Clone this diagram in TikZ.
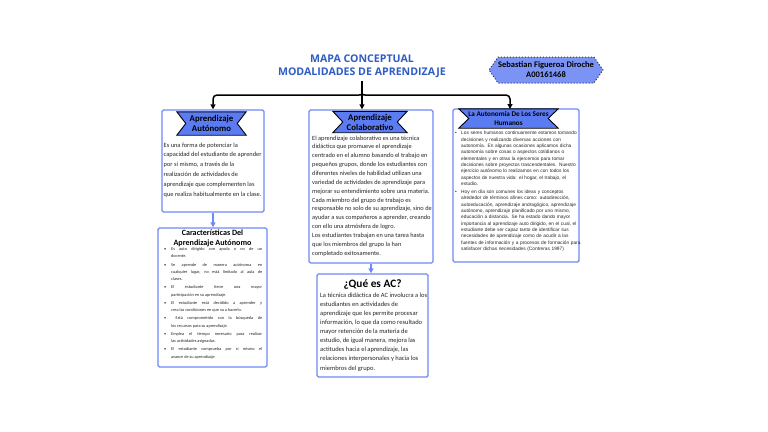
\documentclass[tikz,border=0pt]{standalone}
\usepackage{fontspec}
\setmainfont{Carlito}
\newfontfamily\titlefont{Open Sans}
\newfontfamily\smallfont{Liberation Sans}
\usetikzlibrary{arrows.meta,positioning,shapes.symbols,backgrounds}
\definecolor{ink}{HTML}{262626}
\definecolor{titleblue}{HTML}{2F5DC4}
\definecolor{frame}{HTML}{6F8AF7}
\definecolor{ribbon}{HTML}{5B7BF2}
\definecolor{tagfill}{HTML}{7B93F4}

\newcommand{\itm}[2][7pt]{\hangindent=#1\hangafter=1\noindent\makebox[#1][l]{\textbullet}#2\par}
\newcommand{\ribbonback}[2]{%
  \begin{pgfonlayer}{background}
    \path[ribbonline] (#1.north west) -- (#1.north east) -- ([xshift=-#2]#1.east)
      -- (#1.south east) -- (#1.south west) -- ([xshift=#2]#1.west) -- cycle;
  \end{pgfonlayer}}

\begin{document}
\begin{tikzpicture}[
  x=1pt, y=-1pt,
  font=\fontsize{6.4}{9.8}\selectfont,
  text=ink,
  frame/.style={draw=frame, line width=1.4pt, rounded corners=1.5pt, inner sep=0pt},
  ribbonbox/.style={inner sep=0pt, font=\bfseries\fontsize{8.8}{10}\selectfont, align=center, text=black},
  ribbonline/.style={draw=black, line width=0.9pt, fill=ribbon, line join=miter},
  body/.style={anchor=north west, inner sep=0pt, align=left},
  heading/.style={font=\bfseries\fontsize{8.1}{9.8}\selectfont, align=center, text=black, inner sep=0pt},
  tag/.style={signal, signal to=west and east, signal pointer angle=110, draw=black!80, dotted,
    line width=1pt, fill=tagfill, inner sep=0pt, align=center,
    font=\bfseries\fontsize{8.5}{10}\selectfont, text=black},
  link/.style={-{Triangle[length=5pt,width=5pt]}, line width=1.5pt, draw=black, rounded corners=4pt},
  blink/.style={-{Triangle[length=5pt,width=5pt]}, line width=1.5pt, draw=frame}
]

\begin{pgfonlayer}{background}
  \path[fill=white] (0,0) rectangle (768,431);
  \node[frame, minimum width=102pt, minimum height=102pt] (autobox) at (213,161) {};
  \node[frame, minimum width=109pt, minimum height=139pt] (traitbox) at (212.5,297.5) {};
  \node[frame, minimum width=124pt, minimum height=153pt] (colabbox) at (371,186.5) {};
  \node[frame, minimum width=111pt, minimum height=103pt] (acbox) at (372.5,325.5) {};
  \node[frame, minimum width=126pt, minimum height=153pt] (humanbox) at (516,185.5) {};
\end{pgfonlayer}
\useasboundingbox (0,0) rectangle (768,431);

% title and author
\node[font=\titlefont\bfseries\fontsize{10.6}{13}\selectfont, text=titleblue, align=center, inner sep=0pt]
  (title) at (362,66.5) {MAPA CONCEPTUAL\\MODALIDADES DE APRENDIZAJE};
\node[tag, minimum width=114pt, minimum height=26pt] (author) at (546,70)
  {Sebastian Figueroa Diroche\\A00161468};

% ribbons
\node[ribbonbox, minimum width=69pt, minimum height=23pt] (autotag) at (211.5,123.5) {Aprendizaje\\Autónomo};
\ribbonback{autotag}{9pt}
\node[ribbonbox, minimum width=74pt, minimum height=21pt] (colabtag) at (370,122) {Aprendizaje\\Colaborativo};
\ribbonback{colabtag}{10pt}
\node[ribbonbox, minimum width=99pt, minimum height=19pt, font=\bfseries\fontsize{7.2}{9}\selectfont]
  (humantag) at (508.5,118.5) {La Autonomía De Los Seres\\Humanos};
\ribbonback{humantag}{10pt}

% texts
\node[body] (autotext) at (163.5,142.5) {Es una forma de potenciar la\\capacidad del estudiante de aprender\\por sí mismo, a través de la\\realización de actividades de\\aprendizaje que complementen las\\que realiza habitualmente en la clase.};

\node[heading] (traithead) at (212.5,238) {Características Del\\Aprendizaje Autónomo};
\node[body, text width=98pt, align=justify, font=\fontsize{4.3}{7.3}\selectfont] (traittext) at (164,247.5) {%
  \setlength{\parskip}{0.9pt}%
  \itm{Es auto dirigido con ayuda o no de un\linebreak docente.}
  \itm{Se aprende de manera autónoma en\linebreak cualquier lugar, no está limitado al aula de\linebreak clases.}
  \itm{El estudiante tiene una mayor\linebreak participación en su aprendizaje.}
  \itm{El estudiante está decidido a aprender y\linebreak crea las condiciones en que va a hacerlo.}
  \itm{\ Está comprometido con la búsqueda de\linebreak los recursos para su aprendizaje.}
  \itm{Emplea el tiempo necesario para realizar\linebreak las actividades asignadas.}
  \itm{El estudiante comprueba por sí mismo el\linebreak avance de su aprendizaje}};

\node[body, font=\fontsize{6.35}{8.85}\selectfont] (colabtext) at (312,135.5) {El aprendizaje colaborativo es una técnica\\didáctica que promueve el aprendizaje\\centrado en el alumno basando el trabajo en\\pequeños grupos, donde los estudiantes con\\diferentes niveles de habilidad utilizan una\\variedad de actividades de aprendizaje para\\mejorar su entendimiento sobre una materia.\\Cada miembro del grupo de trabajo es\\responsable no solo de su aprendizaje, sino de\\ayudar a sus compañeros a aprender, creando\\con ello una atmósfera de logro.\\Los estudiantes trabajan en una tarea hasta\\que los miembros del grupo la han\\completado exitosamente.};

\node[heading, font=\bfseries\fontsize{11.3}{12}\selectfont] (achead) at (372.5,285) {¿Qué es AC?};
\node[body, font=\fontsize{6.5}{9.1}\selectfont] (actext) at (320,292.5) {La técnica didáctica de AC involucra a los\\estudiantes en actividades de\\aprendizaje que les permite procesar\\información, lo que da como resultado\\mayor retención de la materia de\\estudio, de igual manera, mejora las\\actitudes hacia el aprendizaje, las\\relaciones interpersonales y hacia los\\miembros del grupo.};

\node[body, text width=200pt, font=\smallfont\fontsize{4.8}{6.35}\selectfont] (humantext) at (455,131) {%
  \setlength{\parskip}{1.5pt}%
  \itm[6pt]{Los seres humanos continuamente estamos tomando\newline decisiones y realizando diversas acciones con\newline autonomía. En algunas ocasiones aplicamos dicha\newline autonomía sobre cosas o aspectos cotidianos o\newline elementales y en otras la ejercemos para tomar\newline decisiones sobre proyectos trascendentales. Nuestro\newline ejercicio autónomo lo realizamos en con todos los\newline aspectos de nuestra vida: el hogar, el trabajo, el\newline estudio.}
  \itm[6pt]{Hoy en día son comunes los ideas y conceptos\newline alrededor de términos afines como: autodirección,\newline autoeducación, aprendizaje andragógico, aprendizaje\newline autónomo, aprendizaje planificado por uno mismo,\newline educación a distancia. Se ha estado dando mayor\newline importancia al aprendizaje auto dirigido, en el cual, el\newline estudiante debe ser capaz tanto de identificar sus\newline necesidades de aprendizaje como de acudir a las\newline fuentes de información y a procesos de formación para\newline satisfacer dichas necesidades (Contreras 1997)}};

% connectors
\coordinate (split) at (362,89);
\coordinate (humanin) at (510,109);
\draw[line width=1.5pt] ([yshift=-3pt]title.south) -- (split);
\draw[link] (split) .. controls (362,95) .. (355,95) -| (autobox.north);
\draw[link] (split) -- (split |- colabbox.north);
\draw[link] (split) .. controls (362,95) .. (369,95) -| (humanin);
\draw[blink] (autobox.south) -- (autobox.south |- traitbox.north);
\draw[blink] (colabbox.south) -- (colabbox.south |- acbox.north);

\end{tikzpicture}
\end{document}
